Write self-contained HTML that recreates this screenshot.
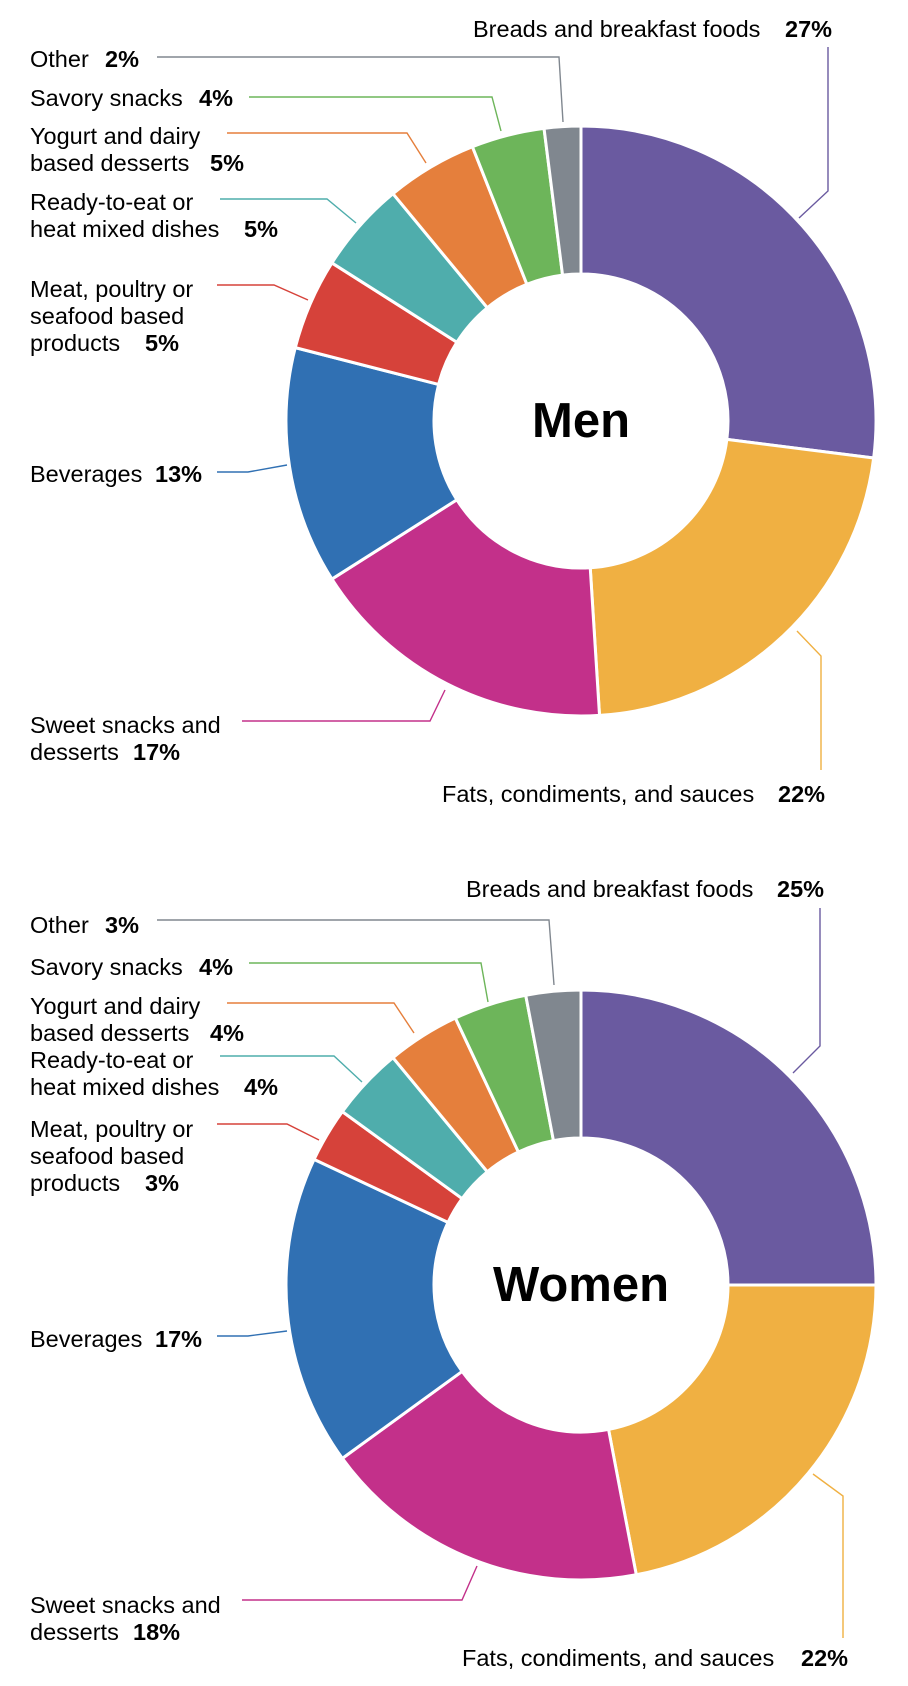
<!DOCTYPE html>
<html><head><meta charset="utf-8">
<style>
html,body{margin:0;padding:0;background:#fff;}
svg{display:block;}
text{font-family:"Liberation Sans",sans-serif;fill:#000;}
.lbl{font-size:23.5px;}
.pct{font-size:23.5px;font-weight:bold;}
.ctr{font-size:49px;font-weight:bold;}
</style></head>
<body>
<svg id="chart" width="908" height="1686" viewBox="0 0 908 1686" xmlns="http://www.w3.org/2000/svg"></svg>
<script>
const categories = ["Breads and breakfast foods","Fats, condiments, and sauces","Sweet snacks and desserts","Beverages","Meat, poultry or seafood based products","Ready-to-eat or heat mixed dishes","Yogurt and dairy based desserts","Savory snacks","Other"];
const colors = ["#6a5aa0","#f0b042","#c3308a","#3070b3","#d6423a","#4fadac","#e57f3c","#6db55a","#80878f"];
const menValues = [27,22,17,13,5,5,5,4,2];
const womenValues = [25,22,18,17,3,4,4,4,3];
const labelLines = [["Breads and breakfast foods"],["Fats, condiments, and sauces"],["Sweet snacks and","desserts"],["Beverages"],["Meat, poultry or","seafood based","products"],["Ready-to-eat or","heat mixed dishes"],["Yogurt and dairy","based desserts"],["Savory snacks"],["Other"]];

const svg = document.getElementById('chart');
const NS = "http://www.w3.org/2000/svg";
function mk(tag, attrs){const e=document.createElementNS(NS,tag);for(const k in attrs)e.setAttribute(k,attrs[k]);svg.appendChild(e);return e;}

const layouts = [
 {name:"men", title:"Men", cx:581, cy:421,
  labels:[
   {x:473,ys:[29],px:785},
   {x:442,ys:[794],px:778},
   {x:30,ys:[725,752],px:133},
   {x:30,ys:[474],px:155},
   {x:30,ys:[289,316,343],px:145},
   {x:30,ys:[202,229],px:244},
   {x:30,ys:[136,163],px:210},
   {x:30,ys:[98],px:199},
   {x:30,ys:[59],px:105}],
  leaders:[
   [[828,47],[828,191],[799,218]],
   [[797,631],[821,656],[821,770]],
   [[242,721],[430,721],[445,690]],
   [[217,472],[248,472],[287,465]],
   [[217,285],[274,285],[308,300]],
   [[220,199],[327,199],[356,223]],
   [[227,133],[407,133],[426,163]],
   [[249,97],[492,97],[501,131]],
   [[157,57],[559,57],[563,122]]]},
 {name:"women", title:"Women", cx:581, cy:1285,
  labels:[
   {x:466,ys:[889],px:777},
   {x:462,ys:[1658],px:801},
   {x:30,ys:[1605,1632],px:133},
   {x:30,ys:[1339],px:155},
   {x:30,ys:[1129,1156,1183],px:145},
   {x:30,ys:[1060,1087],px:244},
   {x:30,ys:[1006,1033],px:210},
   {x:30,ys:[967],px:199},
   {x:30,ys:[925],px:105}],
  leaders:[
   [[820,908],[820,1046],[793,1073]],
   [[813,1474],[843,1496],[843,1638]],
   [[242,1600],[462,1600],[477,1566]],
   [[217,1336],[248,1336],[287,1331]],
   [[217,1124],[287,1124],[319,1140]],
   [[220,1056],[334,1056],[362,1082]],
   [[227,1003],[394,1003],[414,1033]],
   [[249,963],[481,963],[488,1002]],
   [[157,920],[549,920],[554,985]]]}
];
const R=295, r=147;
function pt(cx,cy,rad,a){return [cx+rad*Math.sin(a), cy-rad*Math.cos(a)];}
function arcPath(cx,cy,a0,a1){
  const large=(a1-a0)>Math.PI?1:0;
  const p0=pt(cx,cy,R,a0),p1=pt(cx,cy,R,a1),p2=pt(cx,cy,r,a1),p3=pt(cx,cy,r,a0);
  return `M${p0[0]},${p0[1]} A${R},${R} 0 ${large} 1 ${p1[0]},${p1[1]} L${p2[0]},${p2[1]} A${r},${r} 0 ${large} 0 ${p3[0]},${p3[1]} Z`;
}
[menValues, womenValues].forEach((vals, ci)=>{
  const L = layouts[ci];
  const total = vals.reduce((a,b)=>a+b,0);
  let a = 0;
  vals.forEach((v,i)=>{
    const a1 = a + v/total*2*Math.PI;
    const p = mk('path',{d:arcPath(L.cx,L.cy,a,a1),fill:colors[i],stroke:"#fff","stroke-width":3,"stroke-linejoin":"round"});
    
    
    a = a1;
  });
  const t = mk('text',{x:L.cx,y:L.cy,"text-anchor":"middle","dominant-baseline":"central",class:"ctr"});
  t.textContent = L.title;
  
  
  vals.forEach((v,i)=>{
    const ld = L.leaders[i];
    const pl = mk('polyline',{points:ld.map(p=>p.join(',')).join(' '),fill:"none",stroke:colors[i],"stroke-width":1.4});
    
    
    const lb = L.labels[i];
    labelLines[i].forEach((line,j)=>{
      const tx = mk('text',{x:lb.x,y:lb.ys[j],"dominant-baseline":"central",class:"lbl"});
      tx.textContent = line;
      
      
    });
    const py = lb.ys[lb.ys.length-1];
    const pc = mk('text',{x:lb.px,y:py,"dominant-baseline":"central",class:"pct"});
    pc.textContent = v+"%";
    
    
  });
});
</script>
</body></html>
